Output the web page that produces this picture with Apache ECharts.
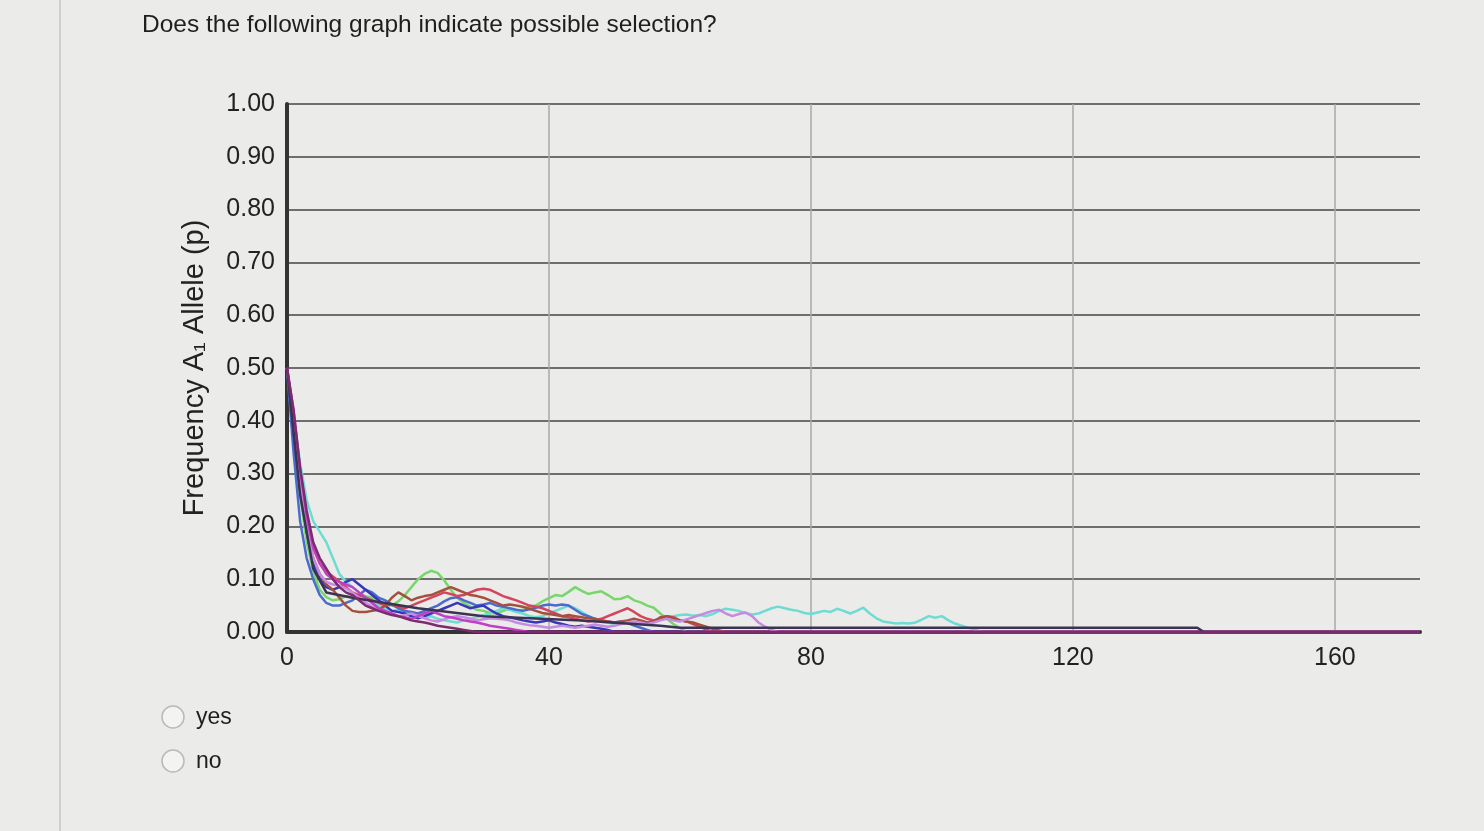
<!DOCTYPE html>
<html>
<head>
<meta charset="utf-8">
<title>Frequency A1 Allele</title>
<style>
  html, body { margin: 0; padding: 0; width: 100%; height: 100%; background: #ebebea; }
  #main { width: 1484px; height: 831px; }
</style>
<script src="https://cdn.jsdelivr.net/npm/echarts@6/dist/echarts.min.js"></script>
</head>
<body>
<div id="main"></div>
<script>
// question and answer texts
var questionText = 'Does the following graph indicate possible selection?';
var answers = ['yes', 'no'];

// axes
var yTicks = [0, 0.1, 0.2, 0.3, 0.4, 0.5, 0.6, 0.7, 0.8, 0.9, 1.0];
var xTicks = [0, 40, 80, 120, 160];
var lastGen = 173;

// allele frequency p per generation (index = generation)
var green = [0.50, 0.37, 0.26, 0.17, 0.115, 0.08, 0.066, 0.06, 0.062, 0.068, 0.066, 0.07, 0.068, 0.065, 0.06, 0.052,
  0.05, 0.058, 0.07, 0.085, 0.10, 0.11, 0.116, 0.112, 0.098, 0.08, 0.065, 0.055, 0.048, 0.042, 0.04, 0.036, 0.035,
  0.04, 0.045, 0.04, 0.042, 0.048, 0.05, 0.058, 0.064, 0.07, 0.068, 0.076, 0.085, 0.078, 0.072, 0.075, 0.077, 0.07,
  0.062, 0.063, 0.068, 0.06, 0.056, 0.05, 0.046, 0.035, 0.025, 0.015, 0.008, 0];
var cyan = [0.50, 0.41, 0.32, 0.25, 0.21, 0.19, 0.17, 0.14, 0.11, 0.095, 0.085, 0.075, 0.065, 0.055, 0.05, 0.045,
  0.04, 0.042, 0.038, 0.035, 0.03, 0.028, 0.03, 0.025, 0.022, 0.02, 0.018, 0.022, 0.025, 0.028, 0.032, 0.035, 0.04,
  0.045, 0.042, 0.038, 0.035, 0.03, 0.028, 0.03, 0.035, 0.04, 0.045, 0.05, 0.045, 0.038, 0.03, 0.025, 0.02, 0.018,
  0.015, 0.018, 0.02, 0.018, 0.015, 0.018, 0.022, 0.025, 0.028, 0.03, 0.032, 0.033, 0.031, 0.032, 0.03, 0.034, 0.04,
  0.044, 0.042, 0.04, 0.036, 0.033, 0.035, 0.04, 0.045, 0.048, 0.045, 0.042, 0.04, 0.036, 0.034, 0.037, 0.04, 0.038,
  0.044, 0.04, 0.035, 0.04, 0.046, 0.035, 0.026, 0.02, 0.018, 0.016, 0.017, 0.016, 0.018, 0.024, 0.03, 0.027, 0.03,
  0.022, 0.016, 0.012, 0.008, 0.005, 0];
var steelBlue = [0.50, 0.34, 0.21, 0.14, 0.10, 0.07, 0.055, 0.05, 0.05, 0.055, 0.06, 0.07, 0.08, 0.075, 0.065, 0.06,
  0.052, 0.045, 0.04, 0.038, 0.035, 0.04, 0.045, 0.05, 0.058, 0.064, 0.066, 0.06, 0.055, 0.05, 0.052, 0.055, 0.05,
  0.048, 0.045, 0.042, 0.04, 0.043, 0.046, 0.05, 0.052, 0.05, 0.052, 0.05, 0.042, 0.034, 0.03, 0.025, 0.022, 0.02,
  0.018, 0.02, 0.017, 0.012, 0.008, 0.004, 0];
var indigo = [0.50, 0.38, 0.27, 0.19, 0.13, 0.10, 0.085, 0.08, 0.085, 0.095, 0.10, 0.09, 0.08, 0.07, 0.06, 0.05,
  0.04, 0.038, 0.035, 0.03, 0.026, 0.03, 0.035, 0.04, 0.045, 0.05, 0.055, 0.05, 0.045, 0.048, 0.05, 0.042, 0.035,
  0.03, 0.028, 0.025, 0.022, 0.02, 0.018, 0.02, 0.022, 0.018, 0.015, 0.012, 0.01, 0.012, 0.01, 0.008, 0.006, 0.004, 0];
var crimson = [0.50, 0.41, 0.30, 0.21, 0.16, 0.13, 0.115, 0.105, 0.095, 0.085, 0.075, 0.07, 0.065, 0.06, 0.055, 0.05,
  0.052, 0.048, 0.045, 0.05, 0.055, 0.06, 0.065, 0.07, 0.075, 0.072, 0.068, 0.07, 0.075, 0.08, 0.082, 0.08, 0.074,
  0.068, 0.064, 0.06, 0.055, 0.05, 0.048, 0.045, 0.04, 0.035, 0.03, 0.028, 0.025, 0.022, 0.02, 0.022, 0.025, 0.03,
  0.035, 0.04, 0.045, 0.038, 0.03, 0.025, 0.022, 0.025, 0.03, 0.028, 0.022, 0.02, 0.015, 0.01, 0.005, 0];
var brown = [0.50, 0.40, 0.29, 0.20, 0.14, 0.11, 0.09, 0.08, 0.065, 0.05, 0.04, 0.038, 0.038, 0.04, 0.042, 0.05,
  0.065, 0.075, 0.068, 0.06, 0.065, 0.068, 0.07, 0.075, 0.08, 0.085, 0.08, 0.075, 0.07, 0.068, 0.065, 0.06, 0.055,
  0.05, 0.052, 0.05, 0.048, 0.044, 0.04, 0.036, 0.034, 0.032, 0.03, 0.032, 0.03, 0.028, 0.026, 0.025, 0.022, 0.02,
  0.018, 0.02, 0.022, 0.025, 0.022, 0.018, 0.02, 0.028, 0.03, 0.026, 0.022, 0.02, 0.018, 0.014, 0.01, 0.006, 0.003, 0];
var magenta = [0.50, 0.42, 0.31, 0.22, 0.16, 0.13, 0.11, 0.10, 0.095, 0.09, 0.085, 0.075, 0.065, 0.055, 0.045, 0.04,
  0.035, 0.03, 0.028, 0.025, 0.03, 0.035, 0.04, 0.035, 0.03, 0.028, 0.025, 0.022, 0.02, 0.018, 0.015, 0.012, 0.01,
  0.008, 0.006, 0.004, 0.002, 0];
var violet = [0.50, 0.40, 0.29, 0.20, 0.14, 0.11, 0.095, 0.09, 0.088, 0.082, 0.075, 0.065, 0.055, 0.048, 0.042, 0.038,
  0.035, 0.03, 0.032, 0.035, 0.03, 0.026, 0.022, 0.02, 0.024, 0.028, 0.03, 0.028, 0.025, 0.022, 0.024, 0.026, 0.025,
  0.024, 0.022, 0.018, 0.015, 0.013, 0.012, 0.01, 0.008, 0.01, 0.012, 0.01, 0.008, 0.01, 0.012, 0.014, 0.012, 0.01,
  0.012, 0.015, 0.018, 0.02, 0.018, 0.015, 0.018, 0.022, 0.025, 0.022, 0.02, 0.024, 0.028, 0.032, 0.036, 0.04, 0.042,
  0.035, 0.03, 0.034, 0.037, 0.03, 0.018, 0.01, 0.004, 0];
var purple = [0.50, 0.42, 0.31, 0.23, 0.17, 0.14, 0.12, 0.10, 0.085, 0.075, 0.07, 0.06, 0.05, 0.045, 0.04, 0.036,
  0.032, 0.03, 0.026, 0.022, 0.02, 0.018, 0.015, 0.012, 0.01, 0.008, 0.006, 0.004, 0.002, 0];
// this one lingers at a single low value for a long time: [generation, p]
var navyPoints = [[0, 0.5], [2, 0.26], [4, 0.12], [6, 0.075], [10, 0.065], [20, 0.045], [30, 0.03], [45, 0.022],
  [57, 0.012], [60, 0.008], [139, 0.008], [140, 0]];

var runs = [
  { name: 'green', color: '#78d66c', values: green },
  { name: 'cyan', color: '#6fdcd3', values: cyan },
  { name: 'steelBlue', color: '#4b6ccd', values: steelBlue },
  { name: 'indigo', color: '#3a36b8', values: indigo },
  { name: 'crimson', color: '#d6435d', values: crimson },
  { name: 'brown', color: '#a3513d', values: brown },
  { name: 'violet', color: '#c68ae0', values: violet },
  { name: 'magenta', color: '#c23fc4', values: magenta },
  { name: 'navy', color: '#3b3352', points: navyPoints },
  { name: 'purple', color: '#7c2c6e', values: purple }
];

function toPoints(run) {
  var pts = run.points ? run.points.slice() : run.values.map(function (v, i) { return [i, v]; });
  // once lost the allele stays at p = 0 until the last generation
  pts.push([lastGen, pts[pts.length - 1][1]]);
  return pts;
}

var series = runs.map(function (run) {
  return {
    name: run.name,
    type: 'line',
    data: toPoints(run),
    showSymbol: false,
    symbol: 'none',
    lineStyle: { color: run.color, width: 2.5 },
    itemStyle: { color: run.color },
    emphasis: { disabled: true }
  };
});

var font = '"Liberation Sans", Arial, Helvetica, sans-serif';

var graphic = [
  { type: 'line', shape: { x1: 60, y1: 0, x2: 60, y2: 831 }, style: { stroke: '#cfcfcf', lineWidth: 2 } },
  { type: 'text', left: 142, top: 13,
    style: { text: questionText, fill: '#1e1e1e', font: '24.5px ' + font } }
];
answers.forEach(function (a, i) {
  var cy = 717 + i * 44;
  graphic.push({ type: 'circle', shape: { cx: 173, cy: cy, r: 11 },
    style: { fill: '#f3f3f2', stroke: '#b9b9b9', lineWidth: 1.5 } });
  graphic.push({ type: 'text', x: 196, y: cy + 1,
    style: { text: a, fill: '#1e1e1e', font: '23px ' + font, textVerticalAlign: 'middle' } });
});

var myChart = echarts.init(document.getElementById('main'));
myChart.setOption({
  backgroundColor: '#ebebea',
  animation: false,
  textStyle: { fontFamily: font },
  grid: { left: 287, right: 64, top: 104, bottom: 199 },
  xAxis: {
    type: 'value',
    min: 0,
    max: lastGen,
    interval: 40,
    axisLine: { show: true, onZero: false, lineStyle: { color: '#333', width: 4 } },
    axisTick: { show: false },
    axisLabel: {
      fontSize: 25, color: '#222', margin: 14, showMaxLabel: false,
      formatter: function (v) { return xTicks.indexOf(v) >= 0 ? String(v) : ''; }
    },
    splitLine: { show: true, showMaxLine: false, lineStyle: { color: '#a9a9a9', width: 1.5 } }
  },
  yAxis: {
    type: 'value',
    min: 0,
    max: 1,
    interval: 0.1,
    name: 'Frequency A\u2081 Allele (p)',
    nameLocation: 'middle',
    nameRotate: 90,
    nameGap: 78,
    nameTextStyle: { fontSize: 29, color: '#222' },
    axisLine: { show: true, lineStyle: { color: '#333', width: 4 } },
    axisTick: { show: false },
    axisLabel: {
      fontSize: 25, color: '#222', margin: 12,
      formatter: function (v) {
        var t = yTicks.find(function (y) { return Math.abs(y - v) < 1e-9; });
        return t === undefined ? '' : t.toFixed(2);
      }
    },
    splitLine: { show: true, lineStyle: { color: '#6e6e6e', width: 2 } }
  },
  graphic: graphic,
  series: series
});
</script>
</body>
</html>
